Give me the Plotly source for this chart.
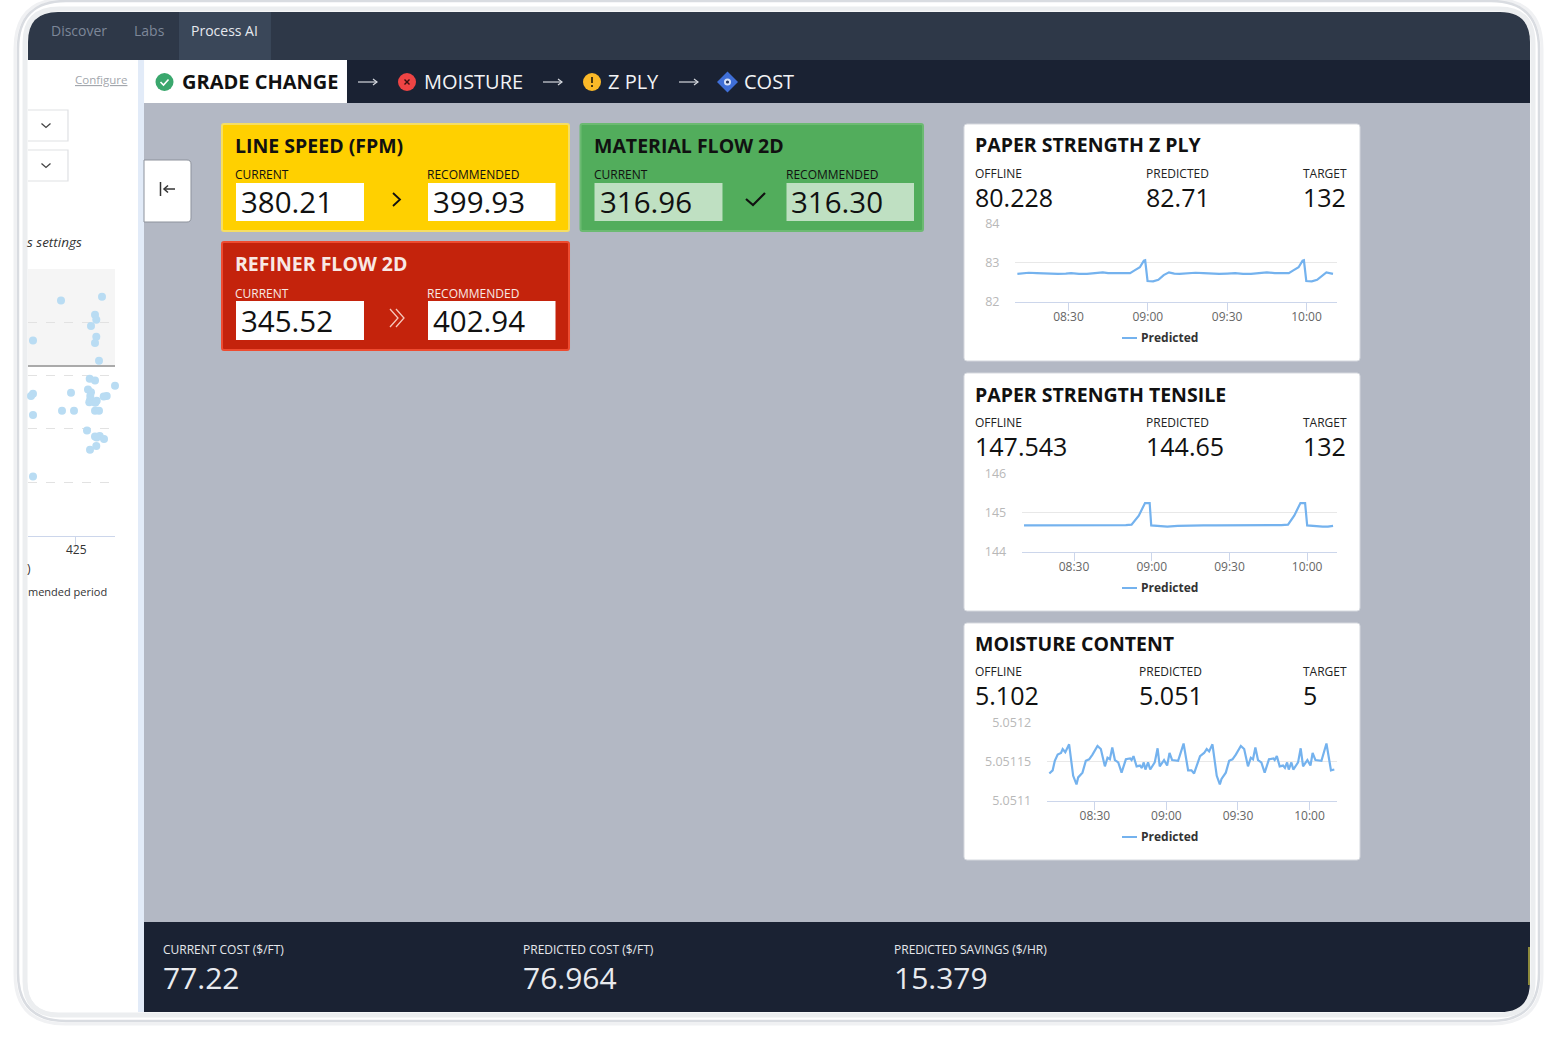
import plotly.graph_objects as go

W, H = 1557, 1055
FONT = 'Open Sans'

# time axis is minutes after midnight
TIME_TICKS = [510, 540, 570, 600]
TIME_LABELS = ['08:30', '09:00', '09:30', '10:00']

Z_TIME = [490.7, 493, 495, 498, 501, 503, 506, 509, 511, 514, 517, 520, 523, 525, 528, 531, 533.3, 535, 537, 538.5,
          539, 539.9, 542, 544, 546, 548, 550, 552, 555, 558, 561, 564, 567, 570, 573, 576, 579, 582, 585, 588,
          591, 593.3, 595, 597, 598.5, 599, 599.9, 602, 604, 606, 607.5, 610]
Z_VALS = [82.71, 82.72, 82.74, 82.73, 82.72, 82.73, 82.71, 82.72, 82.73, 82.71, 82.71, 82.73, 82.75, 82.73, 82.73,
          82.73, 82.73, 82.80, 82.88, 83.05, 83.06, 82.53, 82.52, 82.56, 82.68, 82.75, 82.72, 82.71, 82.73, 82.74,
          82.73, 82.72, 82.71, 82.72, 82.73, 82.71, 82.71, 82.73, 82.75, 82.73, 82.73, 82.73, 82.80, 82.88, 83.05,
          83.06, 82.53, 82.52, 82.56, 82.68, 82.75, 82.71]

T_TIME = [490.7, 495, 500, 505, 510, 515, 520, 525, 530, 532.2, 535, 537.4, 539.2, 539.8, 543, 546, 550, 555, 560,
          565, 570, 575, 580, 585, 590, 592.6, 595, 597.4, 599.2, 600, 603, 606, 608, 610]
T_VALS = [144.67, 144.67, 144.68, 144.67, 144.68, 144.67, 144.67, 144.68, 144.68, 144.69, 144.92, 145.24, 145.24,
          144.67, 144.65, 144.64, 144.66, 144.67, 144.67, 144.67, 144.67, 144.67, 144.67, 144.68, 144.68, 144.69,
          144.92, 145.24, 145.24, 144.67, 144.65, 144.64, 144.64, 144.66]

M_TIME = [490.9, 492.3, 493.2, 494.4, 495.8, 496.5, 497.6, 499.2, 500.9, 502.3, 503.0, 504.8, 506.2, 507.6, 509.0,
          511.1, 512.5, 514.2, 515.3, 516.3, 517.3, 518.4, 519.8, 521.2, 523.0, 524.8, 525.4, 526.2, 527.5, 528.9,
          529.7, 530.5, 531.2, 532.3, 533.2, 535.1, 536.3, 537.2, 539.0, 540.3, 541.3, 542.4, 544.9, 547.2, 549.1,
          550.5, 551.6, 554.1, 555.8, 556.9, 557.9, 559.3, 561.1, 562.4, 563.1, 564.9, 566.3, 567.7, 569.1, 571.2,
          572.6, 574.2, 575.4, 576.3, 577.3, 578.4, 579.8, 581.2, 583.0, 584.9, 585.4, 586.3, 587.5, 588.9, 589.7,
          590.6, 591.3, 592.4, 593.2, 595.2, 596.3, 597.3, 599.1, 600.4, 601.3, 602.5, 605.0, 607.1, 609.0, 610.4]
M_VALS = [5.051135, 5.051139, 5.051151, 5.051159, 5.051161, 5.051166, 5.051162, 5.051172, 5.051132, 5.051121,
          5.051130, 5.051136, 5.051151, 5.051153, 5.051159, 5.051170, 5.051166, 5.051144, 5.051155, 5.051153,
          5.051168, 5.051152, 5.051149, 5.051136, 5.051153, 5.051154, 5.051152, 5.051157, 5.051144, 5.051145,
          5.051142, 5.051149, 5.051140, 5.051149, 5.051140, 5.051149, 5.051167, 5.051144, 5.051152, 5.051145,
          5.051161, 5.051152, 5.051151, 5.051173, 5.051139, 5.051139, 5.051135, 5.051157, 5.051161, 5.051166,
          5.051163, 5.051172, 5.051132, 5.051121, 5.051128, 5.051136, 5.051151, 5.051153, 5.051159, 5.051170,
          5.051166, 5.051144, 5.051155, 5.051153, 5.051168, 5.051152, 5.051149, 5.051136, 5.051153, 5.051154,
          5.051152, 5.051157, 5.051144, 5.051145, 5.051142, 5.051149, 5.051140, 5.051149, 5.051140, 5.051149,
          5.051167, 5.051144, 5.051152, 5.051145, 5.051161, 5.051152, 5.051151, 5.051173, 5.051139, 5.051140]

Z_TICKS = [82, 83, 84]
T_TICKS = [144, 145, 146]
M_TICKS = [5.0511, 5.05115, 5.0512]
M_TICK_LABELS = ['5.0511', '5.05115', '5.0512']

# cut-off scatter in the left panel
DOT_X = [410.5, 451.5, 444.5, 445.8, 440.5, 382.5, 445.8, 444.5, 448.5, 439.2, 444.5, 464.5, 437.5, 440.5, 420.5,
         382.5, 380.5, 456.2, 453.2, 439.8, 439.5, 438.8, 442.8, 446.2, 444.8, 411.5, 423.5, 444.5, 448.5, 382.5,
         436.5, 444.5, 449.2, 446.2, 453.5, 445.8, 439.5, 382.5]
DOT_Y = [44.1, 44.8, 41.4, 40.5, 39.3, 36.6, 37.3, 36.1, 32.8, 29.4, 29.1, 28.1, 27.4, 26.9, 26.8, 26.6, 26.2, 26.2,
         26.1, 26.2, 25.4, 25.0, 25.1, 25.3, 24.9, 23.4, 23.4, 23.4, 23.4, 22.6, 19.7, 18.6, 18.7, 18.4, 18.1, 16.8,
         16.1, 11.1]


def px(x):
    return x / W


def py(y):
    return 1 - y / H


shapes = []
notes = []


def text(x, y, s, size=12, color='#111', bold=False, anchor='left', italic=False):
    if bold:
        s = '<b>' + s + '</b>'
    if italic:
        s = '<i>' + s + '</i>'
    # annotations keep a small inner gap, take it back so x is where the glyphs start
    if anchor == 'left':
        x -= 2
    elif anchor == 'right':
        x += 1.5
    notes.append(dict(x=px(x), y=py(y - 1), xref='paper', yref='paper', text=s, showarrow=False, xanchor=anchor,
                      yanchor='middle', borderpad=0, font=dict(family=FONT, size=size, color=color)))


def rbox(x0, y0, x1, y1, fill, r=0, line=None, lw=1, rs=None):
    # corners: top left, top right, bottom right, bottom left
    tl, tr, br, bl = rs if rs else (r, r, r, r)
    p = lambda a, b: f'{px(a):.5f},{py(b):.5f}'
    path = (f'M{p(x0 + tl, y0)} L{p(x1 - tr, y0)} Q{p(x1, y0)} {p(x1, y0 + tr)} L{p(x1, y1 - br)} '
            f'Q{p(x1, y1)} {p(x1 - br, y1)} L{p(x0 + bl, y1)} Q{p(x0, y1)} {p(x0, y1 - bl)} '
            f'L{p(x0, y0 + tl)} Q{p(x0, y0)} {p(x0 + tl, y0)} Z')
    shapes.append(dict(type='path', path=path, xref='paper', yref='paper', fillcolor=fill, layer='below',
                       line=dict(color=line if line else 'rgba(0,0,0,0)', width=lw if line else 0)))


def stroke(points, color, lw=1.5):
    path = 'M' + ' L'.join(f'{px(a):.5f},{py(b):.5f}' for a, b in points)
    shapes.append(dict(type='path', path=path, xref='paper', yref='paper', layer='below',
                       line=dict(color=color, width=lw)))


def dot(x, y, r, fill):
    shapes.append(dict(type='circle', xref='paper', yref='paper', x0=px(x - r), x1=px(x + r), y0=py(y + r),
                       y1=py(y - r), fillcolor=fill, line=dict(width=0), layer='below'))


def arrow(x0, x1, y):
    stroke([(x0, y), (x1, y)], '#d5d8de', 1.2)
    stroke([(x1 - 4, y - 3), (x1, y), (x1 - 4, y + 3)], '#d5d8de', 1.2)


# device frame
rbox(15, -1, 1542, 1024, 'rgba(0,0,0,0)', 50, '#f0f1f3', 3)
rbox(18, 1, 1539, 1021, '#ffffff', 48, '#d9dce1', 2.5)
rbox(25, 9, 1533, 1015, '#ffffff', 34, '#eceef0', 5)

# app background pieces
rbox(28, 12, 1530, 1012, '#ffffff', 30)
rbox(28, 12, 1530, 60, '#2e3848', rs=(30, 30, 0, 0))
rbox(179, 12, 271, 60, '#3a4759')
rbox(144, 60, 1530, 103, '#1a2233')
rbox(144, 60, 347, 103, '#ffffff')
rbox(138, 60, 144, 1012, '#e2ebf8')
rbox(144, 103, 1530, 922, '#b3b8c4')
rbox(144, 922, 1530, 1012, '#1a2233', rs=(0, 0, 30, 0))
rbox(1528, 947, 1530, 985, '#8d8a3c')

text(52, 32, 'Discover', 14, '#7d8798')
text(135, 32, 'Labs', 14, '#7d8798')
text(191.5, 32, 'Process AI', 14, '#e6e9ee')

# left panel
text(126, 80, '<u>Configure</u>', 11.5, '#a3a7ad', anchor='right')
for y0, y1 in [(110, 141), (150, 181)]:
    stroke([(28, y0), (68, y0), (68, y1), (28, y1)], '#dfe1e4', 1.2)
    yc = (y0 + y1) / 2
    stroke([(41.5, yc - 2), (46, yc + 2), (50.5, yc - 2)], '#444', 1.3)
text(28, 243, 's settings', 13.5, '#333', italic=True)
rbox(28, 269, 115, 366, '#f5f5f5')
text(76, 550, '425', 12, '#333', anchor='center')
text(28, 569, ')', 12, '#333')
text(29, 592, 'mended period', 11, '#333')

# steps bar
dot(164.5, 82, 9, '#3aa76d')
stroke([(160.5, 82), (163.5, 85), (168.5, 79.5)], '#ffffff', 1.6)
text(183, 82, 'GRADE CHANGE', 20, '#111', True)
arrow(358, 377, 82)
dot(407, 82, 9, '#ee4444')
stroke([(404.5, 79.5), (409.5, 84.5)], '#3a1010', 1.4)
stroke([(409.5, 79.5), (404.5, 84.5)], '#3a1010', 1.4)
text(425, 82, 'MOISTURE', 20, '#f2f3f5')
arrow(543, 562, 82)
dot(592, 82, 9, '#fbb928')
stroke([(592, 77), (592, 83)], '#4a3810', 2)
stroke([(592, 85), (592, 87)], '#4a3810', 2)
text(609, 82, 'Z PLY', 20, '#f2f3f5')
arrow(679, 698, 82)
shapes.append(dict(type='path', xref='paper', yref='paper', layer='below', fillcolor='#3f6fd8', line=dict(width=0),
                   path=f'M{px(727.5):.5f},{py(71.5):.5f} L{px(738):.5f},{py(82):.5f} L{px(727.5):.5f},{py(92.5):.5f} '
                        f'L{px(717):.5f},{py(82):.5f} Z'))
dot(727.5, 82, 3.5, '#d9e3f8')
dot(727.5, 82, 1.6, '#24345e')
text(745, 82, 'COST', 20, '#f2f3f5')

# collapse button
rbox(144, 160, 191, 222, '#ffffff', rs=(0, 4, 4, 0), line='#8d929c', lw=1)
stroke([(160.5, 182), (160.5, 196)], '#333', 1.5)
stroke([(175, 189), (164, 189)], '#333', 1.5)
stroke([(168, 185.5), (164, 189), (168, 192.5)], '#333', 1.5)


def tile(x0, y0, x1, y1, fill, edge, title, cur, rec, fg, box, lab_y, box_y0, box_y1, title_y):
    rbox(x0, y0, x1, y1, fill, 2, edge, 2)
    text(x0 + 14, title_y, title, 19.5, fg, True)
    text(x0 + 14, lab_y, 'CURRENT', 12, fg)
    text(x0 + 206, lab_y, 'RECOMMENDED', 12, fg)
    rbox(x0 + 14, box_y0, x0 + 142, box_y1, box)
    rbox(x0 + 206, box_y0, x0 + 333.5, box_y1, box)
    yc = (box_y0 + box_y1) / 2 + 1
    text(x0 + 20, yc, cur, 29.5, '#111')
    text(x0 + 212, yc, rec, 29.5, '#111')


tile(222, 124, 569, 231, '#ffd000', '#f6de62', 'LINE SPEED (FPM)', '380.21', '399.93', '#111', '#ffffff', 175, 183, 221, 147)
stroke([(393, 193), (400, 199.5), (393, 206)], '#111', 1.8)
tile(222, 242, 569, 350, '#c4230c', '#ee4b30', 'REFINER FLOW 2D', '345.52', '402.94', '#f8e8e4', '#ffffff', 294, 301, 340, 265)
stroke([(390, 309), (398, 318), (390, 327)], '#f6c8bd', 1.3)
stroke([(396, 309), (404, 318), (396, 327)], '#f6c8bd', 1.3)
tile(580.5, 124, 923, 231, '#52ad5c', '#6cba72', 'MATERIAL FLOW 2D', '316.96', '316.30', '#111', '#bfe0c2', 175, 183, 221, 147)
stroke([(746, 199), (753, 205), (765, 193)], '#111', 2.2)


def card(y0, y1, title, offline, pred, target, pred_x, lab_y, val_y, title_y, legend_y):
    rbox(964, y0, 1360, y1, '#ffffff', 3, '#d5d8de', 1)
    text(976, title_y, title, 19.5, '#111', True)
    text(976, lab_y, 'OFFLINE', 12, '#222')
    text(pred_x, lab_y, 'PREDICTED', 12, '#222')
    text(1304, lab_y, 'TARGET', 12, '#222')
    text(976, val_y, offline, 25, '#111')
    text(pred_x, val_y, pred, 25, '#111')
    text(1304, val_y, target, 25, '#111')
    # legend entry
    stroke([(1122, legend_y), (1137, legend_y)], '#74b2ee', 2)
    text(1142, legend_y, 'Predicted', 12, '#333', True)


card(124, 361, 'PAPER STRENGTH Z PLY', '80.228', '82.71', '132', 1147, 174, 198, 146, 338)
card(373, 611, 'PAPER STRENGTH TENSILE', '147.543', '144.65', '132', 1147, 423, 447, 395, 588)
card(623, 860, 'MOISTURE CONTENT', '5.102', '5.051', '5', 1140, 672, 696, 644, 837)

# bottom bar
for x, label, val in [(164, 'CURRENT COST ($/FT)', '77.22'), (524, 'PREDICTED COST ($/FT)', '76.964'),
                      (894.5, 'PREDICTED SAVINGS ($/HR)', '15.379')]:
    text(x, 950, label, 12, '#e6e8ec')
    text(x, 978, val, 30, '#e9ebef')

fig = go.Figure()
layout_axes = {}


def add_chart(n, xs, ys, left, top, bottom, yrange, yticks, ylabels):
    fig.add_trace(go.Scatter(x=xs, y=ys, mode='lines', name='Predicted', xaxis=f'x{n}', yaxis=f'y{n}',
                             showlegend=False, line=dict(color='#74b2ee', width=2.2)))
    layout_axes[f'xaxis{n}'] = dict(domain=[px(left), px(1336.7)], range=[489.8, 611.4], anchor=f'y{n}',
                                    tickmode='array', tickvals=TIME_TICKS, ticktext=TIME_LABELS, ticks='outside',
                                    ticklen=8, tickcolor='#ccd6eb', linecolor='#ccd6eb', showline=True,
                                    ticklabelstandoff=-4, showgrid=False, zeroline=False,
                                    tickfont=dict(family=FONT, size=12, color='#666'))
    layout_axes[f'yaxis{n}'] = dict(domain=[py(bottom), py(top)], range=yrange, anchor=f'x{n}', tickmode='array',
                                    tickvals=yticks, ticktext=ylabels, gridcolor='#e8e8e8', zeroline=False,
                                    showline=False, ticks='outside', ticklen=12, tickcolor='rgba(0,0,0,0)',
                                    tickfont=dict(family=FONT, size=12.5, color='#b8b8b8'))


add_chart(1, Z_TIME, Z_VALS, 1015, 223.5, 301.7, [82, 84], Z_TICKS, [str(v) for v in Z_TICKS])
add_chart(2, T_TIME, T_VALS, 1021.7, 473.3, 551.7, [144, 146], T_TICKS, [str(v) for v in T_TICKS])
add_chart(3, M_TIME, M_VALS, 1046.7, 722.3, 801, [5.0511, 5.0512], M_TICKS, M_TICK_LABELS)

fig.add_trace(go.Scatter(x=DOT_X, y=DOT_Y, mode='markers', xaxis='x4', yaxis='y4', showlegend=False, cliponaxis=False,
                         marker=dict(color='#b9dcf3', size=8, line=dict(width=0))))
layout_axes['xaxis4'] = dict(domain=[px(28), px(115)], range=[377.5, 464.5], anchor='y4', tickmode='array',
                             tickvals=[425], ticktext=[''], ticks='outside', ticklen=10, tickcolor='#ccd6eb',
                             showline=True, linecolor='#ccd6eb', showgrid=False, zeroline=False)
layout_axes['yaxis4'] = dict(domain=[py(535.6), py(269)], range=[0, 50], anchor='x4', tickmode='array',
                             tickvals=[10, 20, 30, 40, 50], showticklabels=False, gridcolor='#e2e2e2',
                             griddash='dash', zeroline=False, showline=False)
stroke([(28, 366), (115, 366)], '#aaaaaa', 2)

# the default template turns on axis automargin, which would squeeze the page
fig.update_layout(width=W, height=H, margin=dict(l=0, r=0, t=0, b=0, autoexpand=False), paper_bgcolor='#ffffff',
                  plot_bgcolor='rgba(0,0,0,0)', shapes=shapes, annotations=notes, hovermode=False, **layout_axes)

fig.write_html("out.html", config={'displayModeBar': False}, post_script="document.body.style.margin = '0';")
